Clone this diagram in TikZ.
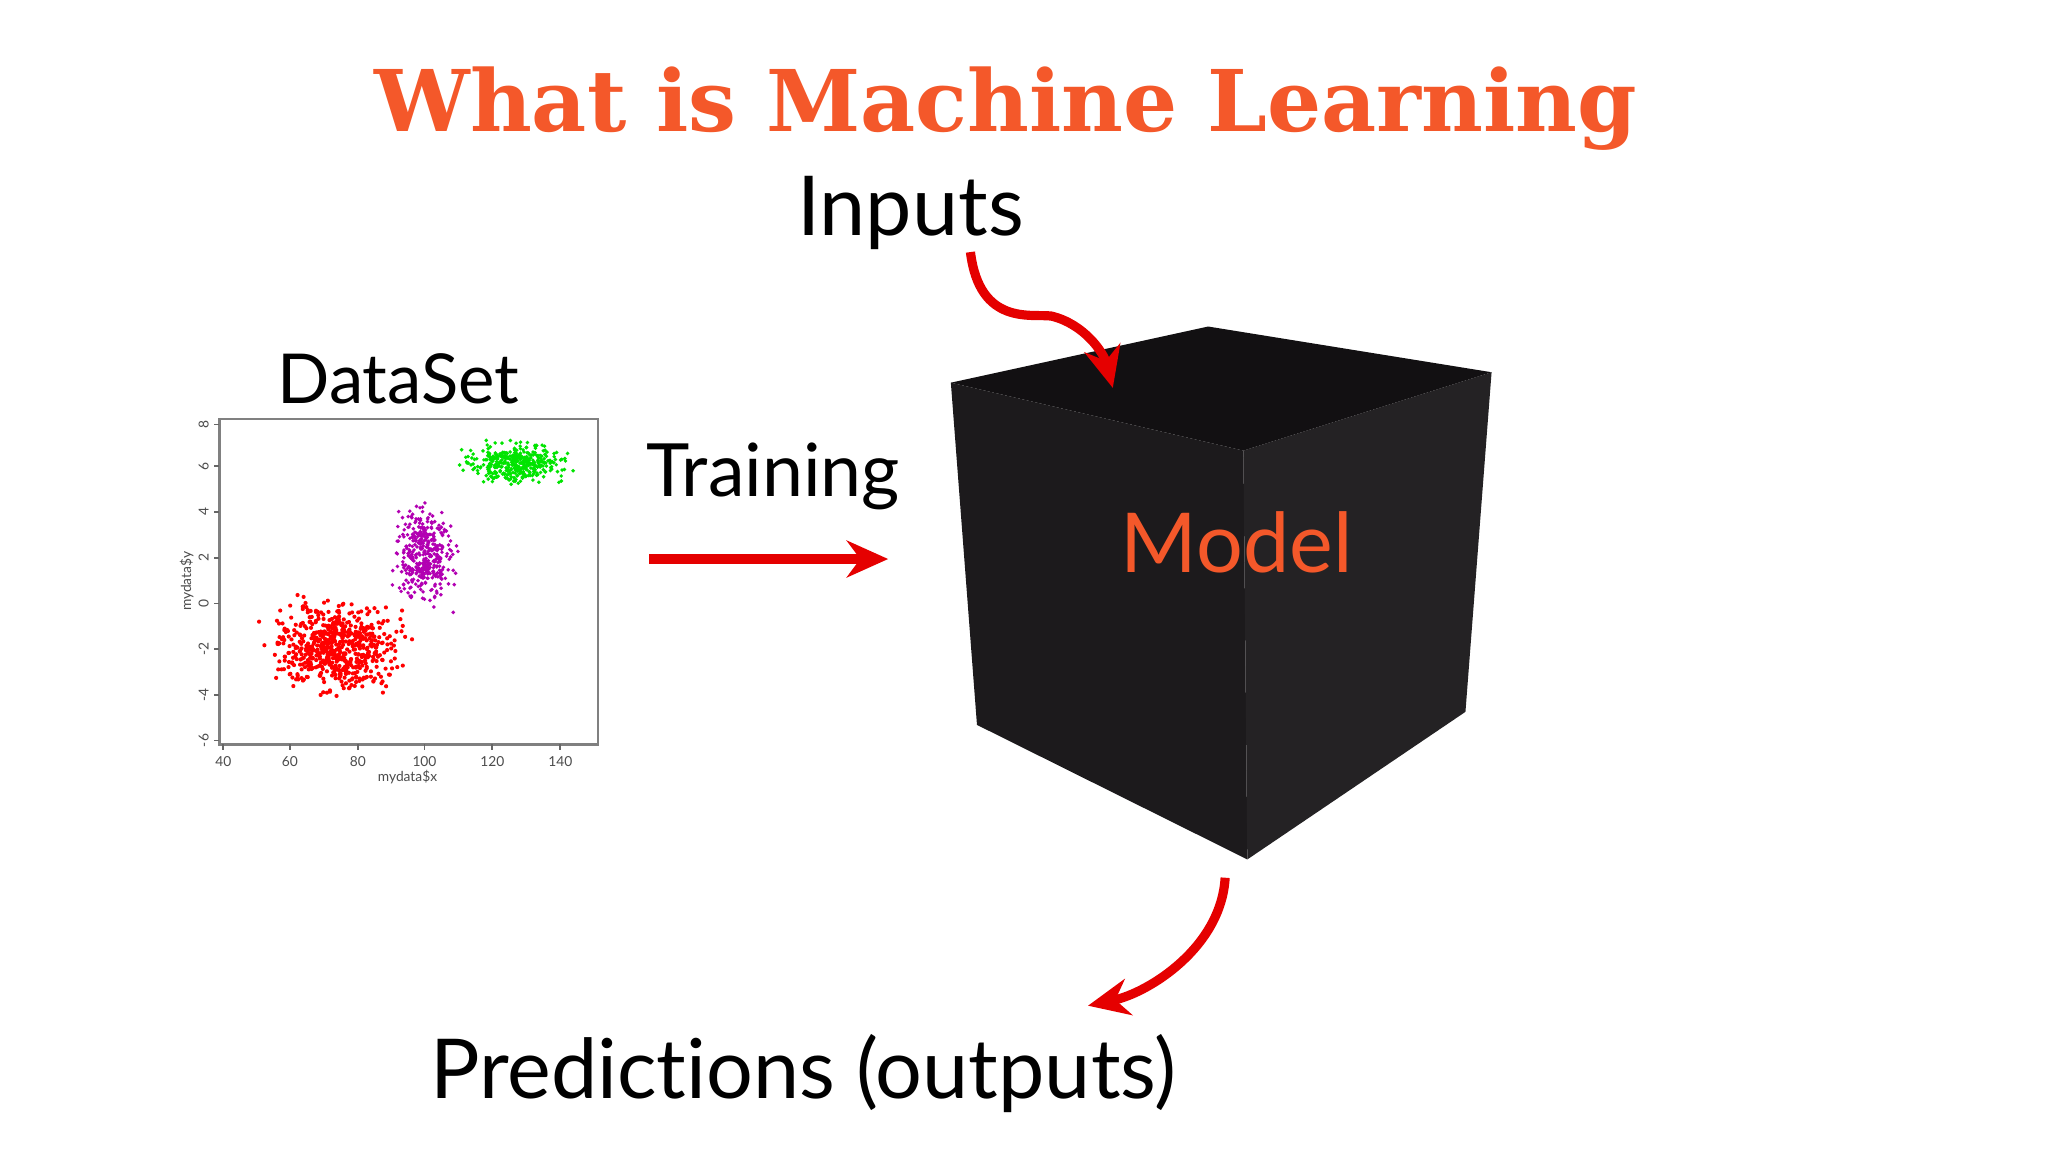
\documentclass[tikz,border=0pt]{standalone}
\usepackage{fontspec}
\setmainfont{Lato}
\newfontfamily\titlefont{DejaVu Serif}
\usetikzlibrary{arrows.meta}
\definecolor{mlorange}{HTML}{F4582A}
\definecolor{cubefront}{HTML}{1C1A1C}
\definecolor{cubetop}{HTML}{121012}
\definecolor{cuberight}{HTML}{242224}
\tikzset{
  lbl/.style={font=\fontsize{18}{22}\selectfont, text=black},
  redarrow/.style={draw=red!90!black, line width=2pt, -{Stealth[length=9pt,width=8pt]}},
  tick/.style={font=\fontsize{3}{4}\selectfont, text=black!70}
}
\begin{document}
\begin{tikzpicture}[x=0.01cm,y=-0.01cm]
\useasboundingbox (0,0) rectangle (1568,882);
\fill[white] (0,0) rectangle (1568,882);
% title
\node[text=mlorange] (title) at (770,83) {\resizebox{9.66cm}{!}{\titlefont\bfseries What is Machine Learning}};
% cube
\coordinate (A) at (728,293); \coordinate (B) at (925,250); \coordinate (C) at (1142,285);
\coordinate (D) at (952,345); \coordinate (E) at (955,658); \coordinate (F) at (748,555);
\coordinate (G) at (1122,545);
\fill[cubefront] (A)--(D)--(E)--(F)--cycle;
\fill[cuberight] (D)--(C)--(G)--(E)--cycle;
\fill[cubetop] (A)--(B)--(C)--(D)--cycle;
\node[lbl, text=mlorange] (model) at (947,415) {Model};
% texts
\node[lbl] (inputs) at (697,163) {Inputs};
\node[lbl, font=\fontsize{15}{18}\selectfont] (dataset) at (305,290) {DataSet};
\node[lbl, font=\fontsize{16}{19}\selectfont] (training) at (592,365) {Training};
\node[lbl] (pred) at (615,822) {\addfontfeature{Ligatures=NoCommon}Predictions (outputs)};
% plot
\draw[black!50, line width=0.5pt] (168,321) rectangle (458,570);
\foreach \x/\t in {171/40,222/60,274/80,325/100,377/120,429/140}{
  \draw[black!60] (\x,570)--(\x,574);
  \node[tick] (tx\t) at (\x,583) {\t};}
\foreach \y/\t in {325/8,357/6,392/4,427/2,462/0,497/-2,532/-4,567/-6}{
  \draw[black!60] (168,\y)--(164,\y);
  \node[tick, rotate=90] (ty\y) at (156,\y) {\t};}
\node[tick] (xl) at (312,595) {mydata\$x};
\node[tick, rotate=90] (yl) at (143,445) {mydata\$y};
\pgfmathsetseed{7}
\foreach \i in {1,...,650}{
  \pgfmathsetmacro\dx{(rand+rand+rand)*22}
  \pgfmathsetmacro\dy{(rand+rand+rand)*15}
  \fill[red] (258+\dx,495+\dy) circle (1.6);}
\foreach \i in {1,...,400}{
  \pgfmathsetmacro\dx{(rand+rand+rand)*10}
  \pgfmathsetmacro\dy{(rand+rand+rand)*16}
  \fill[violet!60!magenta] (325+\dx,425+\dy) circle (1.5);}
\foreach \i in {1,...,400}{
  \pgfmathsetmacro\dx{(rand+rand+rand)*17}
  \pgfmathsetmacro\dy{(rand+rand+rand)*7}
  \fill[green!85!black!70!green] (393+\dx,355+\dy) circle (1.5);}
% arrows
\coordinate (t1) at (497,428); \coordinate (t2) at (680,428);
\draw[redarrow] (t1)--(t2);
\coordinate (i1) at (743,193); \coordinate (i2) at (852,297);
\draw[redarrow] (i1) .. controls (750,250) and (790,240) .. (805,242) .. controls (830,248) and (845,270) .. (i2);
\coordinate (o1) at (938,672); \coordinate (o2) at (833,770);
\draw[redarrow] (o1) .. controls (935,725) and (880,760) .. (o2);
\end{tikzpicture}
\end{document}
